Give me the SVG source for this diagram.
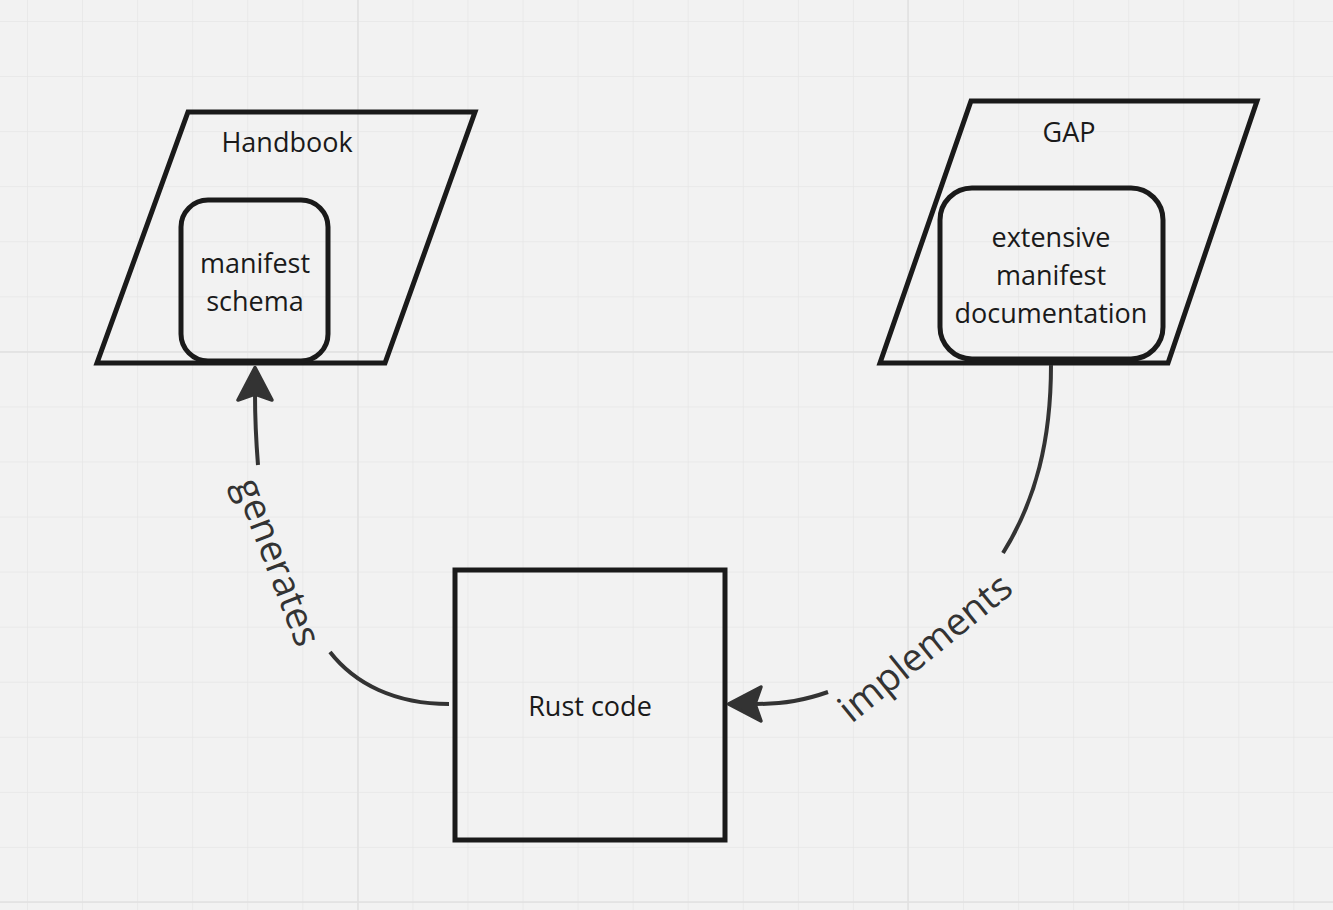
<svg xmlns="http://www.w3.org/2000/svg" width="1333" height="910" viewBox="0 0 1333 910">
  <defs>
    <pattern id="grid" patternUnits="userSpaceOnUse" x="27" y="21" width="55.06" height="55.06">
      <path d="M0,0 H55.06 M0,0 V55.06" stroke="#e6e6e6" stroke-width="1.5" fill="none"/>
    </pattern>
    <marker id="arr" markerUnits="userSpaceOnUse" markerWidth="60" markerHeight="60" viewBox="-45 -30 60 60" refX="-28" refY="0" orient="auto">
      <path d="M-1.5,0 L-34,-17 L-28,0 L-34,17 Z" fill="#333333" stroke="#333333" stroke-width="3.5" stroke-linejoin="round"/>
    </marker>
    <style>
      .shape { fill: none; stroke: #1a1a1a; stroke-width: 5; stroke-linejoin: miter; }
      .lbl { font-family: "Open Sans", "Noto Sans", "DejaVu Sans", sans-serif; font-size: 27px; fill: #1a1a1a; text-anchor: middle; }
      .elbl { font-family: "Open Sans", "Noto Sans", "DejaVu Sans", sans-serif; font-size: 38px; fill: #333333; text-anchor: middle; }
      .conn { fill: none; stroke: #333333; stroke-width: 4; stroke-linecap: butt; }
      .major { stroke: #e0e0e0; stroke-width: 1.5; }
    </style>
  </defs>

  <rect width="1333" height="910" fill="#f2f2f2"/>
  <rect width="1333" height="910" fill="url(#grid)"/>
  <g id="grid-major">
    <line class="major" x1="358" y1="0" x2="358" y2="910"/>
    <line class="major" x1="908" y1="0" x2="908" y2="910"/>
    <line class="major" x1="0" y1="352" x2="1333" y2="352"/>
    <line class="major" x1="0" y1="902" x2="1333" y2="902"/>
  </g>

  <g id="handbook">
    <polygon class="shape" points="188,112 475,112 385,363 97,363"/>
    <text class="lbl" x="287" y="152">Handbook</text>
  </g>
  <g id="manifest-schema">
    <rect class="shape" x="181" y="200" width="147" height="161" rx="27"/>
    <text class="lbl" x="255" y="273">manifest</text>
    <text class="lbl" x="255" y="311">schema</text>
  </g>

  <g id="gap">
    <polygon class="shape" points="971,101 1257,101 1168,363 880,363"/>
    <text class="lbl" x="1069" y="142">GAP</text>
  </g>
  <g id="extensive-doc">
    <rect class="shape" x="940" y="188" width="223" height="171" rx="32"/>
    <text class="lbl" x="1051" y="247">extensive</text>
    <text class="lbl" x="1051" y="285">manifest</text>
    <text class="lbl" x="1051" y="323">documentation</text>
  </g>

  <g id="rust-code">
    <rect class="shape" x="455" y="570" width="270" height="270"/>
    <text class="lbl" x="590" y="716">Rust code</text>
  </g>

  <g id="connectors">
    <path class="conn" d="M449,704 C395,704 355,684 330,652"/>
    <path class="conn" d="M258,465 C256,440 255,418 255,394" marker-end="url(#arr)"/>
    <text class="elbl" transform="translate(275,563) rotate(69)" y="10">generates</text>

    <path class="conn" d="M1051,365 C1051,440 1036,500 1003,553"/>
    <path class="conn" d="M828,692 C805,700 785,704 755,704" marker-end="url(#arr)"/>
    <text class="elbl" transform="translate(927,650) rotate(-39)" y="10">implements</text>
  </g>
</svg>
